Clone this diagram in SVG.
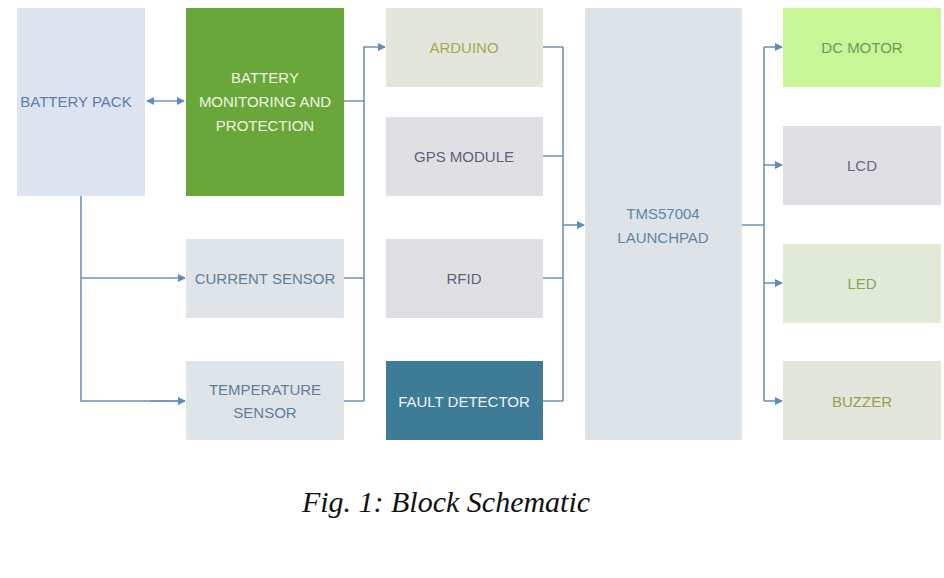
<svg xmlns="http://www.w3.org/2000/svg" width="944" height="578" viewBox="0 0 944 578">
<defs>
<marker id="a" markerWidth="8" markerHeight="8" refX="7" refY="4" orient="auto" markerUnits="userSpaceOnUse"><path d="M0,0 L8,4 L0,8 Z" fill="#5f8bb8"/></marker>
<marker id="as" markerWidth="8" markerHeight="8" refX="1" refY="4" orient="auto" markerUnits="userSpaceOnUse"><path d="M8,0 L0,4 L8,8 Z" fill="#5f8bb8"/></marker>
</defs>
<style>
text{font-family:"Liberation Sans",Arial,sans-serif;font-size:15px;text-anchor:middle}
.c{fill:none;stroke:#6f93b8;stroke-width:1.6}
</style>
<rect width="944" height="578" fill="#fff"/>
<g id="battery-pack"><rect x="17" y="8" width="128" height="188" fill="#dde3ef"/><text x="76" y="107" fill="#5b7db0">BATTERY PACK</text></g>
<g id="bmp"><rect x="186" y="8" width="158" height="188" fill="#6aa73a"/><text fill="#eef5e0"><tspan x="265" y="83">BATTERY</tspan><tspan x="265" y="107">MONITORING AND</tspan><tspan x="265" y="131">PROTECTION</tspan></text></g>
<g id="current"><rect x="186" y="239" width="158" height="79" fill="#dfe4e8"/><text x="265" y="284" fill="#607e9a">CURRENT SENSOR</text></g>
<g id="temp"><rect x="186" y="361" width="158" height="79" fill="#dfe4e8"/><text fill="#607e9a"><tspan x="265" y="395">TEMPERATURE</tspan><tspan x="265" y="418">SENSOR</tspan></text></g>
<g id="arduino"><rect x="386" y="8" width="157" height="79" fill="#e3e6dc"/><text x="464" y="53" fill="#a7a850">ARDUINO</text></g>
<g id="gps"><rect x="386" y="117" width="157" height="79" fill="#e0e0e4"/><text x="464" y="162" fill="#5a6479">GPS MODULE</text></g>
<g id="rfid"><rect x="386" y="239" width="157" height="79" fill="#e0e0e4"/><text x="464" y="284" fill="#5a6479">RFID</text></g>
<g id="fault"><rect x="386" y="361" width="157" height="79" fill="#3d7b97"/><text x="464" y="407" fill="#eef2f6">FAULT DETECTOR</text></g>
<g id="launchpad"><rect x="585" y="8" width="157" height="432" fill="#dde3e6"/><text fill="#5d86a6"><tspan x="663" y="219">TMS57004</tspan><tspan x="663" y="243">LAUNCHPAD</tspan></text></g>
<g id="dcmotor"><rect x="783" y="8" width="158" height="79" fill="#c8f596"/><text x="862" y="53" fill="#6a9a5a">DC MOTOR</text></g>
<g id="lcd"><rect x="783" y="126" width="158" height="79" fill="#e0e0e4"/><text x="862" y="171" fill="#666a78">LCD</text></g>
<g id="led"><rect x="783" y="244" width="158" height="79" fill="#e2ead8"/><text x="862" y="289" fill="#8aa55a">LED</text></g>
<g id="buzzer"><rect x="783" y="361" width="158" height="79" fill="#e3e6dc"/><text x="862" y="407" fill="#9c9c48">BUZZER</text></g>
<g id="connectors">
<path class="c" d="M147,101 H184" marker-start="url(#as)" marker-end="url(#a)"/>
<path class="c" d="M81,196 V401 H185"/>
<path class="c" d="M81,278 H185" marker-end="url(#a)"/>
<path class="c" d="M150,401 H185" marker-end="url(#a)"/>
<path class="c" d="M344,101 H364 M344,278 H364 M344,401 H364 M364,401 V47 H385" marker-end="url(#a)"/>
<path class="c" d="M543,47 H563 M543,156 H563 M543,278 H563 M543,401 H563 M563,47 V401"/>
<path class="c" d="M563,225 H584" marker-end="url(#a)"/>
<path class="c" d="M742,225 H764 M764,47 V401"/>
<path class="c" d="M764,47 H782" marker-end="url(#a)"/>
<path class="c" d="M764,165 H782" marker-end="url(#a)"/>
<path class="c" d="M764,283 H782" marker-end="url(#a)"/>
<path class="c" d="M764,401 H782" marker-end="url(#a)"/>
</g>
<text x="446" y="512" style="font-family:'Liberation Serif','Times New Roman',serif;font-style:italic;font-size:30px" fill="#111">Fig. 1: Block Schematic</text>
</svg>
